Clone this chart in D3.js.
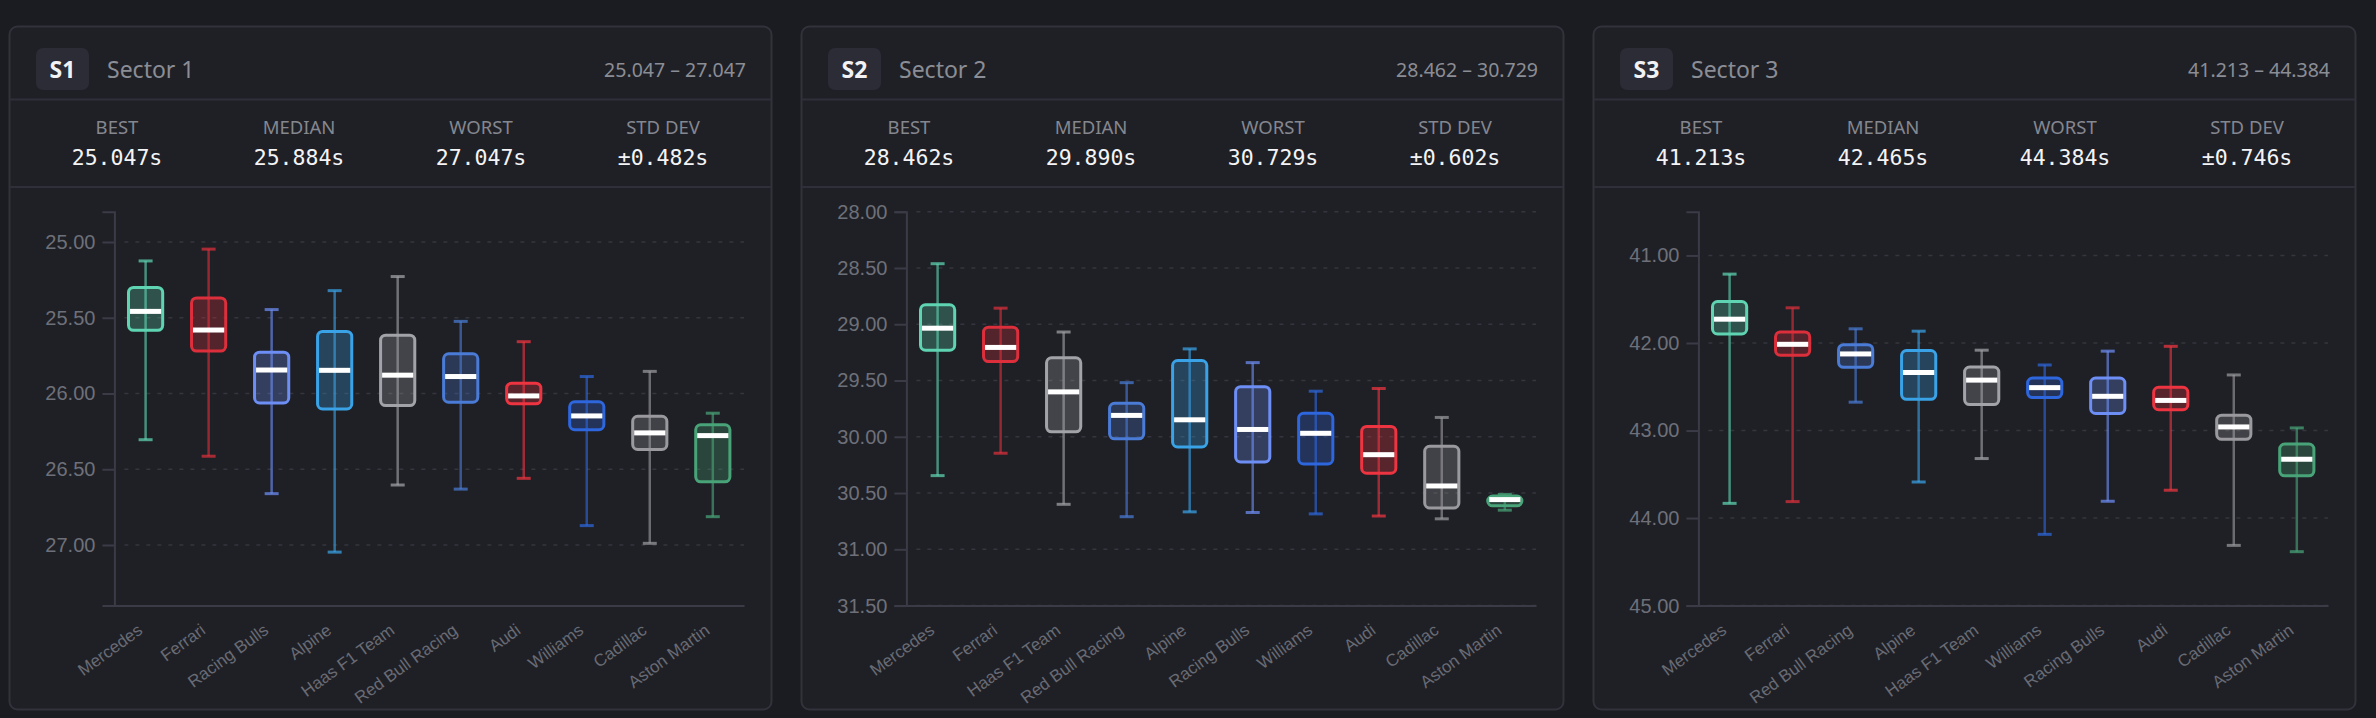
<!DOCTYPE html>
<html>
<head>
<meta charset="utf-8">
<script src="https://cdn.jsdelivr.net/npm/d3@7"></script>
<style>
  html, body { margin: 0; padding: 0; background: #1b1c21; }
  svg { display: block; }
</style>
</head>
<body>
<svg id="chart"></svg>
<script>
// sector summary values
const sectorNames = ["Sector 1", "Sector 2", "Sector 3"];
const sectorBadges = ["S1", "S2", "S3"];
const statLabels = ["BEST", "MEDIAN", "WORST", "STD DEV"];
const s1Summary = [25.047, 25.884, 27.047, 0.482];
const s2Summary = [28.462, 29.890, 30.729, 0.602];
const s3Summary = [41.213, 42.465, 44.384, 0.746];

// team order per sector (sorted by median)
const s1Teams = ["Mercedes", "Ferrari", "Racing Bulls", "Alpine", "Haas F1 Team", "Red Bull Racing", "Audi", "Williams", "Cadillac", "Aston Martin"];
const s2Teams = ["Mercedes", "Ferrari", "Haas F1 Team", "Red Bull Racing", "Alpine", "Racing Bulls", "Williams", "Audi", "Cadillac", "Aston Martin"];
const s3Teams = ["Mercedes", "Ferrari", "Red Bull Racing", "Alpine", "Haas F1 Team", "Williams", "Racing Bulls", "Audi", "Cadillac", "Aston Martin"];

// box stats: [min, q1, median, q3, max]
const s1Boxes = [
  [25.125, 25.300, 25.458, 25.583, 26.305],
  [25.047, 25.369, 25.581, 25.720, 26.414],
  [25.446, 25.727, 25.845, 26.062, 26.661],
  [25.321, 25.590, 25.847, 26.102, 27.047],
  [25.228, 25.615, 25.879, 26.080, 26.604],
  [25.524, 25.738, 25.888, 26.057, 26.631],
  [25.658, 25.932, 26.016, 26.068, 26.560],
  [25.888, 26.055, 26.148, 26.239, 26.872],
  [25.854, 26.150, 26.260, 26.369, 26.989],
  [26.130, 26.207, 26.278, 26.583, 26.813]
];
const s2Boxes = [
  [28.462, 28.827, 29.035, 29.231, 30.345],
  [28.857, 29.026, 29.206, 29.332, 30.146],
  [29.069, 29.298, 29.601, 29.956, 30.600],
  [29.519, 29.702, 29.810, 30.018, 30.710],
  [29.219, 29.323, 29.849, 30.091, 30.667],
  [29.341, 29.555, 29.935, 30.223, 30.673],
  [29.595, 29.791, 29.969, 30.241, 30.685],
  [29.571, 29.908, 30.159, 30.324, 30.704],
  [29.828, 30.085, 30.437, 30.633, 30.729],
  [30.512, 30.527, 30.558, 30.613, 30.652]
];
const s3Boxes = [
  [41.213, 41.527, 41.728, 41.897, 43.832],
  [41.598, 41.873, 42.015, 42.141, 43.812],
  [41.838, 42.019, 42.125, 42.278, 42.676],
  [41.865, 42.086, 42.337, 42.644, 43.588],
  [42.082, 42.274, 42.424, 42.703, 43.320],
  [42.251, 42.400, 42.510, 42.624, 44.186],
  [42.093, 42.400, 42.609, 42.805, 43.808],
  [42.038, 42.506, 42.656, 42.762, 43.682],
  [42.365, 42.825, 42.959, 43.100, 44.312],
  [42.970, 43.155, 43.328, 43.517, 44.384]
];

// axis domains and ticks
const s1Domain = [24.8, 27.4];
const s2Domain = [28.0, 31.5];
const s3Domain = [40.5, 45.0];
const s1Ticks = [25.0, 25.5, 26.0, 26.5, 27.0];
const s2Ticks = [28.0, 28.5, 29.0, 29.5, 30.0, 30.5, 31.0, 31.5];
const s3Ticks = [41.0, 42.0, 43.0, 44.0, 45.0];

const teamColors = {
  "Mercedes": "#5fd4b2",
  "Ferrari": "#dc2f3b",
  "Racing Bulls": "#6d8ef4",
  "Alpine": "#3aa2e6",
  "Haas F1 Team": "#a2a3a8",
  "Red Bull Racing": "#4a7bd6",
  "Audi": "#ee3440",
  "Williams": "#2d66dd",
  "Cadillac": "#9a9a9e",
  "Aston Martin": "#48a478"
};

const sectors = [
  {teams: s1Teams, boxes: s1Boxes, summary: s1Summary, domain: s1Domain, ticks: s1Ticks},
  {teams: s2Teams, boxes: s2Boxes, summary: s2Summary, domain: s2Domain, ticks: s2Ticks},
  {teams: s3Teams, boxes: s3Boxes, summary: s3Summary, domain: s3Domain, ticks: s3Ticks}
];

const W = 2376, H = 718;
const panelX = [9, 801, 1593];
const panelW = 763, panelTop = 26, panelH = 684;
const uiFont = "'Noto Sans', 'Open Sans', sans-serif";
const monoFont = "'DejaVu Sans Mono', 'Liberation Mono', monospace";
const chartFont = "'Liberation Sans', Arial, sans-serif";

const svg = d3.select("#chart").attr("width", W).attr("height", H);

sectors.forEach((s, i) => {
  const g = svg.append("g").attr("transform", `translate(${panelX[i]},${panelTop})`);

  g.append("rect")
   .attr("x", 0.5).attr("y", 0.5)
   .attr("width", panelW - 1).attr("height", panelH - 1)
   .attr("rx", 8)
   .attr("fill", "#1f2026")
   .attr("stroke", "#31323b")
   .attr("stroke-width", 2);

  // header
  g.append("rect")
   .attr("x", 27).attr("y", 22)
   .attr("width", 53).attr("height", 42)
   .attr("rx", 7)
   .attr("fill", "#2b2c36");
  g.append("text")
   .attr("x", 53.5).attr("y", 52)
   .attr("text-anchor", "middle")
   .attr("font-family", uiFont)
   .attr("font-weight", 700)
   .attr("font-size", "23px")
   .attr("fill", "#f2f2f5")
   .text(sectorBadges[i]);
  g.append("text")
   .attr("x", 98).attr("y", 52)
   .attr("font-family", uiFont)
   .attr("font-size", "23px")
   .attr("fill", "#8b8d95")
   .text(sectorNames[i]);
  g.append("text")
   .attr("x", panelW - 26).attr("y", 51)
   .attr("text-anchor", "end")
   .attr("font-family", uiFont)
   .attr("font-size", "19.5px")
   .attr("fill", "#8b8d95")
   .text(`${s.summary[0].toFixed(3)} – ${s.summary[2].toFixed(3)}`);

  g.append("line")
   .attr("x1", 1).attr("x2", panelW - 1)
   .attr("y1", 73.5).attr("y2", 73.5)
   .attr("stroke", "#2e2f38").attr("stroke-width", 2);
  g.append("line")
   .attr("x1", 1).attr("x2", panelW - 1)
   .attr("y1", 161).attr("y2", 161)
   .attr("stroke", "#2e2f38").attr("stroke-width", 2);

  // stats row
  const statText = [
    s.summary[0].toFixed(3) + "s",
    s.summary[1].toFixed(3) + "s",
    s.summary[2].toFixed(3) + "s",
    "±" + s.summary[3].toFixed(3) + "s"
  ];
  const col = d3.scaleBand().domain(statLabels).range([17, 745]);
  g.selectAll(".stat-label")
   .data(statLabels)
   .enter().append("text")
   .attr("x", d => col(d) + col.bandwidth() / 2)
   .attr("y", 108)
   .attr("text-anchor", "middle")
   .attr("font-family", uiFont)
   .attr("font-size", "18.5px")
   .attr("fill", "#85878f")
   .text(d => d);
  g.selectAll(".stat-value")
   .data(statLabels)
   .enter().append("text")
   .attr("x", d => col(d) + col.bandwidth() / 2)
   .attr("y", 138.5)
   .attr("text-anchor", "middle")
   .attr("font-family", monoFont)
   .attr("font-size", "21.5px")
   .attr("fill", "#f4f4f6")
   .text((d, k) => statText[k]);

  // plot
  const left = 105.4, right = 735, top = 185.7, bottom = 579.6;
  const y = d3.scaleLinear().domain(s.domain).range([top, bottom]);
  const x = d3.scaleBand().domain(s.teams).range([left, right])
              .paddingInner(0.41).paddingOuter(0.2);

  // grid
  g.selectAll(".grid")
   .data(s.ticks)
   .enter().append("line")
   .attr("x1", left + 10).attr("x2", right)
   .attr("y1", d => y(d)).attr("y2", d => y(d))
   .attr("stroke", "#34353e")
   .attr("stroke-width", 1.5)
   .attr("stroke-dasharray", "4 7");

  const yAxis = g.append("g")
   .attr("transform", `translate(${left},0)`)
   .call(d3.axisLeft(y).tickValues(s.ticks).tickFormat(d3.format(".2f"))
           .tickSize(12).tickSizeOuter(12).tickPadding(7));
  yAxis.selectAll("path, line").attr("stroke", "#3a3b46").attr("stroke-width", 2);
  yAxis.selectAll("text")
   .attr("font-family", chartFont)
   .attr("font-size", "20px")
   .attr("fill", "#6e7079");

  const xAxis = g.append("g")
   .attr("transform", `translate(0,${bottom})`)
   .call(d3.axisBottom(x).tickSize(0).tickSizeOuter(0).tickPadding(0));
  xAxis.select(".domain").attr("stroke", "#3a3b46").attr("stroke-width", 2);
  xAxis.selectAll("text")
   .attr("x", 0).attr("y", 0).attr("dy", 0)
   .attr("font-family", chartFont)
   .attr("font-size", "17px")
   .attr("fill", "#696b74")
   .attr("text-anchor", "end")
   .attr("transform", "translate(-2,27) rotate(-36)");

  const bw = x.bandwidth();
  const boxes = g.selectAll(".box")
   .data(s.teams.map((t, k) => ({team: t, v: s.boxes[k]})))
   .enter().append("g")
   .attr("transform", d => `translate(${x(d.team) + bw / 2},0)`);

  boxes.append("line")
   .attr("y1", d => y(d.v[0])).attr("y2", d => y(d.v[4]))
   .attr("stroke", d => teamColors[d.team])
   .attr("stroke-opacity", 0.62)
   .attr("stroke-width", 2.5);
  boxes.selectAll(".cap")
   .data(d => [d, d].map((e, k) => ({team: e.team, val: k ? e.v[4] : e.v[0]})))
   .enter().append("line")
   .attr("x1", -7).attr("x2", 7)
   .attr("y1", d => y(d.val)).attr("y2", d => y(d.val))
   .attr("stroke", d => teamColors[d.team])
   .attr("stroke-opacity", 0.72)
   .attr("stroke-width", 3);

  boxes.append("rect")
   .attr("x", -bw / 2 + 1.5)
   .attr("width", bw - 3)
   .attr("y", d => y(d.v[1]))
   .attr("height", d => Math.max(2, y(d.v[3]) - y(d.v[1])))
   .attr("rx", 5)
   .attr("fill", d => teamColors[d.team])
   .attr("fill-opacity", 0.28)
   .attr("stroke", d => teamColors[d.team])
   .attr("stroke-width", 3);

  boxes.append("rect")
   .attr("x", -bw / 2 + 3)
   .attr("width", bw - 6)
   .attr("y", d => y(d.v[2]) - 2.5)
   .attr("height", 5)
   .attr("fill", "#ffffff");
});
</script>
</body>
</html>
